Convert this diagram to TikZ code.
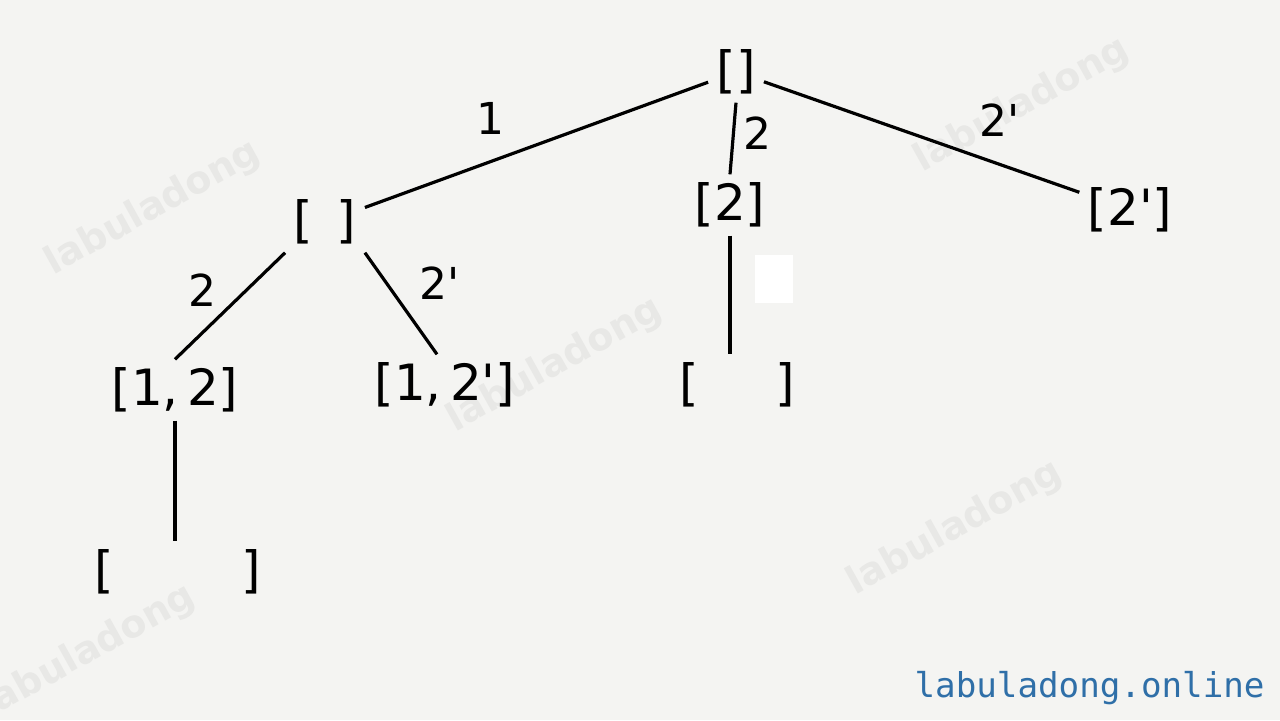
\documentclass[tikz,border=0pt]{standalone}
\usepackage{fontspec}
\setmainfont{DejaVu Sans}
\setmonofont{DejaVu Sans Mono}
\usetikzlibrary{positioning}
\definecolor{paper}{HTML}{F4F4F2}
\definecolor{wmgray}{HTML}{E8E8E6}
\definecolor{siteblue}{HTML}{2F6FA8}
\newcommand{\pr}{\textquotesingle}

\begin{document}
\begin{tikzpicture}[x=0.5pt, y=-0.5pt,
  state/.style={font=\fontsize{25}{28}\selectfont, inner sep=4pt},
  lbl/.style={font=\fontsize{22}{26}\selectfont},
  wmark/.style={font=\fontsize{19}{22}\selectfont\bfseries, text=wmgray, rotate=29},
  branch/.style={line width=1.6pt}]

% background
\useasboundingbox (0,0) rectangle (1280,720);
\clip (0,0) rectangle (1280,720);
\fill[paper] (0,0) rectangle (1280,720);
\fill[white] (755,255) rectangle (793,303);

% watermarks
\node[wmark] (wm1) at (153,208) {labuladong};
\node[wmark] (wm2) at (555,365) {labuladong};
\node[wmark] (wm3) at (1022,105) {labuladong};
\node[wmark] (wm4) at (955,528) {labuladong};
\node[wmark] (wm5) at (88,652) {labuladong};

% states
\node[state] (root) at (736,72) {[]};
\node[state] (s1) at (325,222) {[\hspace{12pt}]};
\node[state] (s2) at (730,205) {[2]};
\node[state] (s2p) at (1130,210) {[2\pr]};
\node[state] (s12) at (175,390) {[1,\,2]};
\node[state] (s12p) at (445,385) {[1,\,2\pr]};
\node[state] (s2x) at (737,385) {[\hspace{38pt}]};
\node[state] (s12x) at (178,572) {[\hspace{64pt}]};

% branches
\draw[branch] (root) -- (s1);
\draw[branch] (root.south) -- (s2.north);
\draw[branch] (root) -- (s2p);
\draw[branch] (s1.south west) -- (s12.north);
\draw[branch] (s1.south east) -- ([xshift=-4pt]s12p.north);
\draw[branch] (s2.south) -- (s2.south |- s2x.north);
\draw[branch] (s12.south) -- (s12.south |- s12x.north);

% labels
\node[lbl] (l1) at (490,118) {1};
\node[lbl] (l2) at (757,133) {2};
\node[lbl] (l2p) at (1000,120) {2\pr};
\node[lbl] (l12) at (202,290) {2};
\node[lbl] (l12p) at (440,283) {2\pr};

\node[font=\ttfamily\fontsize{17.1}{20}\selectfont, text=siteblue, anchor=east, inner sep=0pt] (site) at (1265,688) {labuladong.online};
\end{tikzpicture}
\end{document}
